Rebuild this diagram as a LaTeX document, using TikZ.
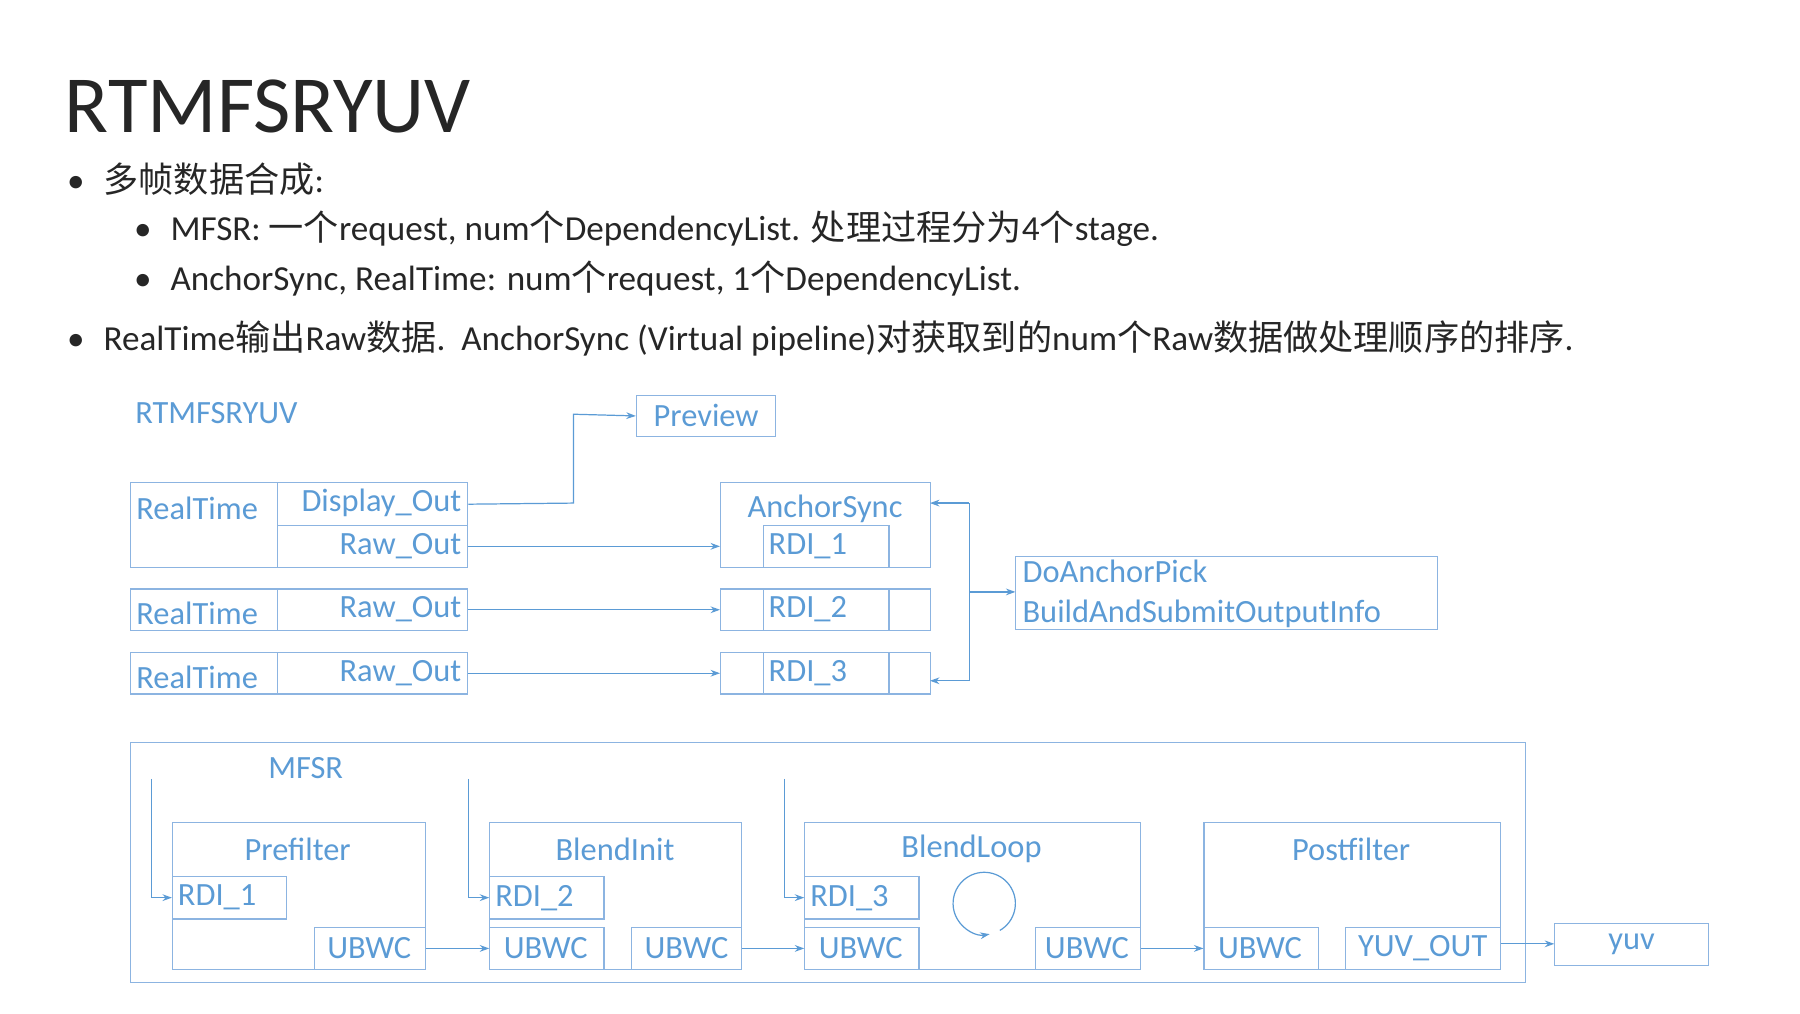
\documentclass[tikz,border=0pt]{standalone}
\usepackage{fontspec}
\setmainfont{Carlito}
\newfontfamily\cjk{Noto Sans CJK SC}
\usetikzlibrary{arrows.meta}
\definecolor{bl}{RGB}{91,155,213}
\definecolor{bx}{RGB}{140,180,225}
\newcommand\bx[5]{\node[box, minimum width={(#4-#2)*0.03cm}, minimum height={(#5-#3)*0.03cm}, anchor=north west] (#1) at (#2,#3) {};}
\newcommand\tx[4]{\node[lab, anchor=#4] (#1) at (#2) {#3};}
\begin{document}
\begin{tikzpicture}[x=0.03cm,y=-0.03cm,
  box/.style={draw=bx, line width=0.8pt, inner sep=0pt},
  lab/.style={text=bl, font=\fontsize{24}{28}\selectfont, inner sep=0pt},
  bul/.style={text=black!85, font=\fontsize{26}{30}\selectfont, inner sep=0pt, anchor=west},
  ar/.style={draw=bl, line width=0.9pt, -{Stealth[length=7pt,width=5pt]}},
  ln/.style={draw=bl, line width=0.9pt}]
\useasboundingbox (0,0) rectangle (1560,878);
% text
\node[text=black!85, font=\fontsize{60}{64}\selectfont, inner sep=0pt, anchor=west] (title) at (56,92) {RTMFSRYUV};
\node[bul] (b1) at (58,155) {•\hspace{14pt}{\cjk 多帧数据合成}:};
\node[bul] (b2) at (116,198) {•\hspace{14pt}MFSR: {\cjk 一个}request, num{\cjk 个}DependencyList. {\cjk 处理过程分为}4{\cjk 个}stage.};
\node[bul] (b3) at (116,241) {•\hspace{14pt}AnchorSync, RealTime: num{\cjk 个}request, 1{\cjk 个}DependencyList.};
\node[bul] (b4) at (58,293) {•\hspace{14pt}RealTime{\cjk 输出}Raw{\cjk 数据}.\ \ AnchorSync (Virtual pipeline){\cjk 对获取到的}num{\cjk 个}Raw{\cjk 数据做处理顺序的排序}.};
% upper diagram
\tx{lbl}{117,358}{RTMFSRYUV}{west}
\bx{prev}{551}{342}{672}{378}\tx{tprev}{prev}{Preview}{center}
\bx{rt1}{113}{418}{405}{491}
\bx{dout}{240}{418}{405}{455}\bx{rout1}{240}{455}{405}{491}
\tx{trt1}{118,441}{RealTime}{west}
\tx{tdo}{400,436}{Display\_Out}{east}\tx{tro1}{400,473}{Raw\_Out}{east}
\bx{rt2}{113}{510}{405}{546}\bx{rout2}{240}{510}{405}{546}
\tx{trt2}{118,532}{RealTime}{west}\tx{tro2}{400,528}{Raw\_Out}{east}
\bx{rt3}{113}{565}{405}{601}\bx{rout3}{240}{565}{405}{601}
\tx{trt3}{118,587}{RealTime}{west}\tx{tro3}{400,583}{Raw\_Out}{east}
\bx{as}{624}{418}{806}{491}\tx{tas}{715,441}{AnchorSync}{center}
\bx{r1}{661}{455}{770}{491}\tx{tr1}{666,473}{RDI\_1}{west}
\bx{as2}{624}{510}{806}{546}\bx{r2}{661}{510}{770}{546}\tx{tr2}{666,528}{RDI\_2}{west}
\bx{as3}{624}{565}{806}{601}\bx{r3}{661}{565}{770}{601}\tx{tr3}{666,583}{RDI\_3}{west}
\bx{dap}{880}{482}{1245}{545}
\tx{tdap1}{886,495}{DoAnchorPick}{west}\tx{tdap2}{886,532}{BuildAndSubmitOutputInfo}{west}
\coordinate (k1) at (497,436); \coordinate (k2) at (497,359);
\draw[ar] (dout.east) -- (k1) -- (k2) -- (prev.west);
\draw[ar] (rout1.east) -- (as.west |- rout1.east);
\draw[ar] (rout2.east) -- (as2.west);
\draw[ar] (rout3.east) -- (as3.west);
\coordinate (v1) at (840,436); \coordinate (v2) at (840,590); \coordinate (v3) at (840,513);
\draw[ln] (v1) -- (v2);
\draw[ar] (v1) -- (806,436);
\draw[ar] (v2) -- (806,590);
\draw[ar] (v3) -- (dap.west |- v3);
% MFSR
\bx{mfsr}{113}{643}{1322}{851}\tx{tmf}{265,666}{MFSR}{center}
\bx{pre}{149}{712}{368}{840}\tx{tpre}{258,736}{Prefilter}{center}
\bx{pr1}{149}{759}{248}{796}\tx{tpr1}{154,778}{RDI\_1}{west}
\bx{pu}{272}{803}{368}{840}\tx{tpu}{320,822}{UBWC}{center}
\bx{bi}{424}{712}{642}{840}\tx{tbi}{533,736}{BlendInit}{center}
\bx{bi2}{424}{759}{523}{796}\tx{tbi2}{429,778}{RDI\_2}{west}
\bx{biu1}{424}{803}{523}{840}\tx{tbiu1}{473,822}{UBWC}{center}
\bx{biu2}{547}{803}{642}{840}\tx{tbiu2}{595,822}{UBWC}{center}
\bx{bl}{697}{712}{988}{840}\tx{tbl}{842,736}{BlendLoop}{center}
\bx{bl3}{697}{759}{796}{796}\tx{tbl3}{702,778}{RDI\_3}{west}
\bx{blu1}{697}{803}{796}{840}\tx{tblu1}{746,822}{UBWC}{center}
\bx{blu2}{897}{803}{988}{840}\tx{tblu2}{942,822}{UBWC}{center}
\bx{pf}{1043}{712}{1300}{840}\tx{tpf}{1171,736}{Postfilter}{center}
\bx{pfu}{1043}{803}{1142}{840}\tx{tpfu}{1092,822}{UBWC}{center}
\bx{yo}{1166}{803}{1300}{840}\tx{tyo}{1233,822}{YUV\_OUT}{center}
\bx{yuv}{1347}{800}{1480}{836}\tx{tyuv}{yuv}{yuv}{center}
\coordinate (s1) at (131,675); \coordinate (s2) at (406,675); \coordinate (s3) at (680,675);
\draw[ar] (s1) |- (pr1.west);
\draw[ar] (s2) |- (bi2.west);
\draw[ar] (s3) |- (bl3.west);
\draw[ar] (pu.east) -- (biu1.west);
\draw[ar] (biu2.east) -- (blu1.west);
\draw[ar] (blu2.east) -- (pfu.west);
\draw[ar] (yo.east |- 0,818) -- (yuv.west |- 0,818);
\coordinate (cc) at (853,783);
\draw[ar] ([shift={(60:27)}]cc) arc[start angle=60, end angle=-300+20, radius=27] ;
\end{tikzpicture}
\end{document}
